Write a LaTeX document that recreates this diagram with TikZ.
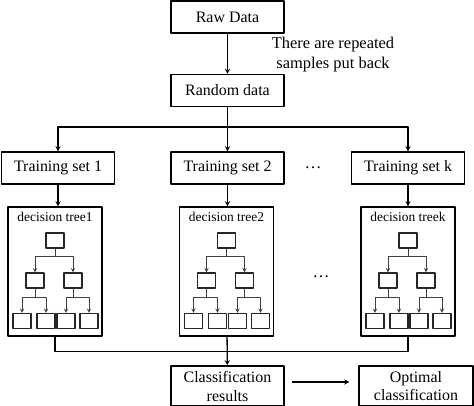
\documentclass[tikz,border=0pt]{standalone}
\usepackage{fontspec}
\setmainfont{Liberation Serif}
\usetikzlibrary{positioning}
\tikzset{
  box/.style={draw,line width=1.3bp,minimum width=113bp,minimum height=32bp,inner sep=1bp,align=center,font=\fontsize{16}{19}\selectfont},
  treebox/.style={draw,line width=1.3bp,minimum width=94bp,minimum height=129bp,inner sep=0pt},
  leaf/.style={draw,black!85,line width=1.1bp,minimum width=18bp,minimum height=15bp,inner sep=0pt},
  branch/.style={black!75,line width=1bp},
  link/.style={line width=1.3bp},
  title/.style={inner sep=0pt,font=\fontsize{13.5}{15}\selectfont},
}
\begin{document}
\begin{tikzpicture}[x=1bp,y=-1bp,line join=round,>=stealth]
  \useasboundingbox (0,0) rectangle (474,405);
  % top of the chart
  \node[box] (raw) at (227.5,17) {Raw Data};
  \node[box] (rand) at (227.5,90.5) {Random data};
  \draw[link,->] (raw) -- (rand);
  \node[align=center,font=\fontsize{16.5}{20}\selectfont] (note) at (333,55) {There are repeated\\samples put back};
  \coordinate (split) at (227.5,127);
  \draw[link] (rand) -- (split);
  % training sets and trees
  \foreach \n/\x/\tx/\t in {1/58/55/1,2/227.5/226.5/2,3/408/408/k}{
    \node[box] (ts\n) at (\x,168) {Training set \t};
    \draw[link,->] (split) -| (ts\n.north);
    \node[treebox] (dt\n) at (\tx,271.5) {};
    \draw[link,->] (ts\n) -- (ts\n |- dt\n.north);
    \node[title,below=6bp of dt\n.north] (name\n) {decision tree\t};
    \node[leaf] (r\n) at (\tx,240.5) {};
    \node[leaf] (a\n) at (\tx-20,280.5) {};
    \node[leaf] (b\n) at (\tx+18,280.5) {};
    \foreach \m/\dx in {1/-33,2/-9,3/11,4/34}{
      \node[leaf] (l\n\m) at (\tx+\dx,321) {};}
    \draw[branch,->] (r\n.south) -- ++(0,8) -| (a\n.north);
    \draw[branch,->] (r\n.south) -- ++(0,8) -| (b\n.north);
    \draw[branch,->] (a\n.south) -- ++(0,9) -| (l\n1.north);
    \draw[branch,->] (a\n.south) -- ++(0,9) -| (l\n2.north);
    \draw[branch,->] (b\n.south) -- ++(0,9) -| (l\n3.north);
    \draw[branch,->] (b\n.south) -- ++(0,9) -| (l\n4.north);
  }
  \node[font=\fontsize{17}{19}\selectfont] (dotsA) at (313,168) {\dots};
  \node[font=\fontsize{17}{19}\selectfont] (dotsB) at (321,277) {\dots};
  % bottom of the chart
  \node[box,minimum height=40bp] (cls) at (227.5,386) {Classification\\results};
  \node[box,minimum height=40bp,minimum width=114bp] (opt) at (416,386) {Optimal\\classification};
  \draw[link] (dt1.south) -- ++(0,15) -| (dt3.south);
  \draw[link,->] (dt2) -- (cls);
  \draw[link,->,shorten <=7bp,shorten >=9bp] ([yshift=4bp]cls.east) -- ([yshift=4bp]opt.west);
\end{tikzpicture}
\end{document}
